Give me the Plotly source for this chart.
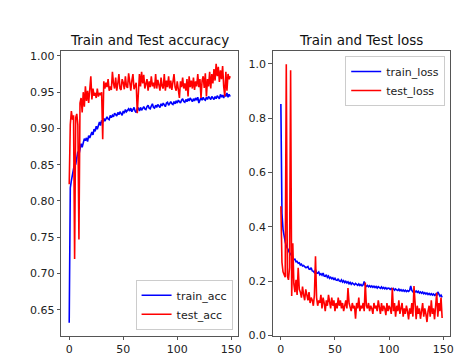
import plotly.graph_objects as go

epochs = list(range(150))

train_acc = [
    0.632, 0.818, 0.828, 0.838, 0.845, 0.852, 0.850, 0.862, 0.868, 0.864,
    0.874, 0.879, 0.874, 0.882, 0.886, 0.883, 0.887, 0.882, 0.890, 0.887,
    0.892, 0.895, 0.891, 0.899, 0.896, 0.903, 0.899, 0.906, 0.909, 0.904,
    0.911, 0.908, 0.914, 0.910, 0.913, 0.916, 0.913, 0.912, 0.918, 0.915,
    0.918, 0.916, 0.921, 0.918, 0.917, 0.922, 0.919, 0.923, 0.920, 0.918,
    0.924, 0.921, 0.926, 0.923, 0.925, 0.927, 0.924, 0.928, 0.923, 0.926,
    0.929, 0.924, 0.922, 0.927, 0.928, 0.924, 0.929, 0.925, 0.928, 0.930,
    0.927, 0.926, 0.930, 0.932, 0.928, 0.927, 0.931, 0.934, 0.929, 0.928,
    0.932, 0.929, 0.933, 0.930, 0.929, 0.934, 0.931, 0.935, 0.932, 0.930,
    0.935, 0.936, 0.932, 0.934, 0.937, 0.934, 0.933, 0.937, 0.934, 0.938,
    0.935, 0.939, 0.936, 0.935, 0.939, 0.941, 0.937, 0.936, 0.940, 0.937,
    0.941, 0.938, 0.942, 0.939, 0.937, 0.941, 0.938, 0.942, 0.939, 0.943,
    0.935, 0.939, 0.942, 0.939, 0.943, 0.940, 0.939, 0.943, 0.940, 0.944,
    0.941, 0.940, 0.944, 0.941, 0.940, 0.944, 0.941, 0.945, 0.942, 0.941,
    0.947, 0.943, 0.946, 0.942, 0.947, 0.944, 0.949, 0.943, 0.947, 0.944,
]

test_acc = [
    0.823, 0.905, 0.924, 0.912, 0.918, 0.720, 0.915, 0.920, 0.905, 0.747,
    0.935, 0.942, 0.922, 0.950, 0.930, 0.958, 0.938, 0.952, 0.935, 0.962,
    0.972, 0.940, 0.955, 0.945, 0.949, 0.942, 0.955, 0.944, 0.949, 0.946,
    0.950, 0.885, 0.965, 0.955, 0.963, 0.957, 0.968, 0.952, 0.958, 0.953,
    0.978, 0.962, 0.955, 0.970, 0.952, 0.962, 0.975, 0.955, 0.953, 0.968,
    0.963, 0.954, 0.972, 0.958, 0.956, 0.976, 0.960, 0.952, 0.966, 0.975,
    0.954, 0.960, 0.963, 0.921, 0.960, 0.975, 0.958, 0.978, 0.962, 0.974,
    0.955, 0.960, 0.968, 0.952, 0.965, 0.957, 0.972, 0.958, 0.963, 0.955,
    0.975, 0.955, 0.967, 0.960, 0.952, 0.970, 0.958, 0.955, 0.975, 0.952,
    0.966, 0.957, 0.972, 0.955, 0.966, 0.953, 0.962, 0.975, 0.957, 0.952,
    0.965, 0.955, 0.942, 0.965, 0.957, 0.970, 0.955, 0.962, 0.952, 0.968,
    0.944, 0.972, 0.957, 0.966, 0.955, 0.970, 0.953, 0.965, 0.958, 0.975,
    0.957, 0.968, 0.942, 0.966, 0.972, 0.956, 0.976, 0.944, 0.968, 0.958,
    0.978, 0.955, 0.975, 0.962, 0.982, 0.966, 0.989, 0.972, 0.985, 0.964,
    0.980, 0.968, 0.986, 0.958, 0.944, 0.978, 0.952, 0.975, 0.968, 0.972,
]

train_loss = [
    0.852, 0.450, 0.390, 0.360, 0.345, 0.330, 0.320, 0.310, 0.305, 0.300,
    0.290, 0.287, 0.280, 0.281, 0.272, 0.273, 0.266, 0.268, 0.260, 0.263,
    0.256, 0.258, 0.254, 0.250, 0.251, 0.254, 0.245, 0.244, 0.250, 0.238,
    0.237, 0.232, 0.242, 0.230, 0.230, 0.234, 0.224, 0.228, 0.222, 0.230,
    0.219, 0.218, 0.224, 0.214, 0.219, 0.211, 0.215, 0.209, 0.213, 0.205,
    0.211, 0.204, 0.203, 0.209, 0.201, 0.199, 0.205, 0.197, 0.202, 0.195,
    0.200, 0.194, 0.198, 0.191, 0.196, 0.189, 0.194, 0.189, 0.187, 0.192,
    0.187, 0.185, 0.190, 0.184, 0.188, 0.183, 0.187, 0.199, 0.184, 0.181,
    0.185, 0.180, 0.184, 0.179, 0.183, 0.178, 0.182, 0.177, 0.181, 0.175,
    0.180, 0.176, 0.174, 0.179, 0.173, 0.177, 0.172, 0.176, 0.171, 0.175,
    0.174, 0.170, 0.174, 0.169, 0.173, 0.167, 0.172, 0.168, 0.166, 0.171,
    0.165, 0.169, 0.164, 0.168, 0.163, 0.167, 0.162, 0.166, 0.163, 0.167,
    0.183, 0.166, 0.161, 0.165, 0.160, 0.164, 0.159, 0.163, 0.157, 0.161,
    0.156, 0.160, 0.154, 0.158, 0.153, 0.157, 0.151, 0.155, 0.150, 0.154,
    0.149, 0.153, 0.148, 0.152, 0.147, 0.161, 0.149, 0.145, 0.149, 0.141,
]

test_loss = [
    0.476, 0.270, 0.235, 0.220, 0.215, 0.998, 0.220, 0.205, 0.250, 0.976,
    0.146, 0.340, 0.190, 0.160, 0.205, 0.150, 0.250, 0.170, 0.160, 0.140,
    0.180, 0.150, 0.130, 0.170, 0.140, 0.130, 0.160, 0.120, 0.140, 0.130,
    0.110, 0.150, 0.292, 0.140, 0.110, 0.130, 0.120, 0.150, 0.100, 0.140,
    0.120, 0.090, 0.130, 0.110, 0.150, 0.120, 0.100, 0.140, 0.110, 0.130,
    0.090, 0.120, 0.100, 0.140, 0.110, 0.130, 0.100, 0.120, 0.090, 0.110,
    0.130, 0.100, 0.175, 0.120, 0.100, 0.090, 0.120, 0.100, 0.110, 0.062,
    0.120, 0.100, 0.140, 0.090, 0.110, 0.100, 0.120, 0.090, 0.195, 0.110,
    0.100, 0.120, 0.090, 0.110, 0.100, 0.080, 0.120, 0.100, 0.110, 0.090,
    0.130, 0.100, 0.080, 0.120, 0.090, 0.110, 0.100, 0.075, 0.120, 0.090,
    0.110, 0.100, 0.080, 0.176, 0.090, 0.120, 0.070, 0.110, 0.090, 0.130,
    0.080, 0.100, 0.120, 0.070, 0.100, 0.080, 0.110, 0.090, 0.060, 0.100,
    0.080, 0.120, 0.070, 0.182, 0.090, 0.060, 0.110, 0.080, 0.100, 0.062,
    0.090, 0.120, 0.070, 0.100, 0.080, 0.050, 0.090, 0.110, 0.070, 0.130,
    0.080, 0.100, 0.060, 0.110, 0.158, 0.070, 0.120, 0.090, 0.140, 0.065,
]

acc_ticks = [0.65, 0.70, 0.75, 0.80, 0.85, 0.90, 0.95, 1.00]
loss_ticks = [0.0, 0.2, 0.4, 0.6, 0.8, 1.0]
x_ticks = [0, 50, 100, 150]

FONT = "DejaVu Sans"
W, H = 474, 362
LW = 1.6

fig = go.Figure()
fig.add_trace(go.Scatter(x=epochs, y=train_acc, mode="lines", name="train_acc",
                         line=dict(color="#0000ff", width=LW), xaxis="x", yaxis="y", legend="legend"))
fig.add_trace(go.Scatter(x=epochs, y=test_acc, mode="lines", name="test_acc",
                         line=dict(color="#ff0000", width=LW), xaxis="x", yaxis="y", legend="legend"))
fig.add_trace(go.Scatter(x=epochs, y=train_loss, mode="lines", name="train_loss",
                         line=dict(color="#0000ff", width=LW), xaxis="x2", yaxis="y2", legend="legend2"))
fig.add_trace(go.Scatter(x=epochs, y=test_loss, mode="lines", name="test_loss",
                         line=dict(color="#ff0000", width=LW), xaxis="x2", yaxis="y2", legend="legend2"))

axis_common = dict(showline=True, linecolor="#555555", linewidth=1, mirror=True,
                   ticks="outside", ticklen=3.5, tickcolor="#555555", tickwidth=1,
                   showgrid=False, zeroline=False,
                   tickfont=dict(family=FONT, size=11, color="#222222"))

ydom = [(H - 334) / H, (H - 43) / H]
fig.update_layout(
    width=W, height=H,
    margin=dict(l=0, r=0, t=0, b=0),
    paper_bgcolor="white", plot_bgcolor="white",
    font=dict(family=FONT, size=11, color="#222222"),
    xaxis=dict(domain=[53.5 / W, 231.7 / W], range=[-7.45, 156.45], tickvals=x_ticks,
               anchor="y", **axis_common),
    yaxis=dict(domain=ydom, range=[0.6143, 1.0067], tickvals=acc_ticks, tickformat=".2f",
               anchor="x", **axis_common),
    xaxis2=dict(domain=[266.5 / W, 445 / W], range=[-7.45, 156.45], tickvals=x_ticks,
                anchor="y2", **axis_common),
    yaxis2=dict(domain=ydom, range=[0.0, 1.047], tickvals=loss_ticks, tickformat=".1f",
                anchor="x2", **axis_common),
    legend=dict(x=226 / W, y=(H - 328) / H, xanchor="right", yanchor="bottom",
                bgcolor="white", bordercolor="#cccccc", borderwidth=1,
                font=dict(family=FONT, size=11, color="#222222"),
                tracegroupgap=0, itemwidth=30),
    legend2=dict(x=440 / W, y=(H - 48) / H, xanchor="right", yanchor="top",
                 bgcolor="white", bordercolor="#cccccc", borderwidth=1,
                 font=dict(family=FONT, size=11, color="#222222"),
                 tracegroupgap=0, itemwidth=30),
    showlegend=True,
    annotations=[
        dict(text="Train and Test accuracy", x=(53.5 + 231.7) / 2 / W, y=(H - 32) / H,
             xref="paper", yref="paper", xanchor="center", yanchor="middle", showarrow=False,
             font=dict(family=FONT, size=13.5, color="#111111")),
        dict(text="Train and Test loss", x=(266.5 + 445) / 2 / W, y=(H - 32) / H,
             xref="paper", yref="paper", xanchor="center", yanchor="middle", showarrow=False,
             font=dict(family=FONT, size=13.5, color="#111111")),
    ],
)

fig.write_html("out.html")
